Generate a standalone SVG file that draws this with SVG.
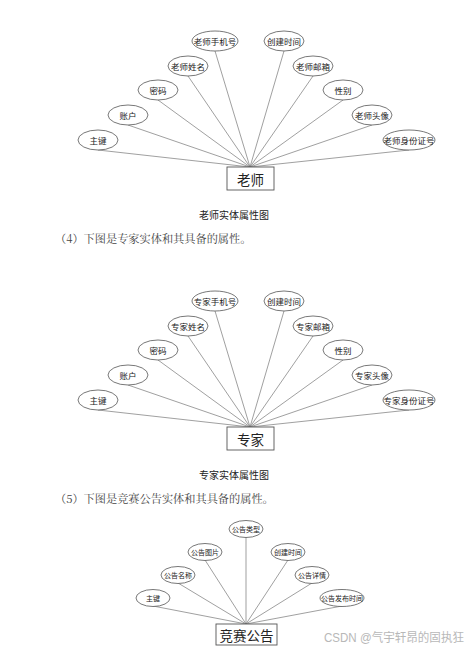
<svg xmlns="http://www.w3.org/2000/svg" width="474" height="648" viewBox="0 0 474 648">
<style>
.bg{fill:#fff}
.e{fill:#fff;stroke:#555;stroke-width:0.8}
.box{fill:#fff;stroke:#555;stroke-width:0.9}
.ln{stroke:#777;stroke-width:0.7;fill:none}
.t{font-family:"Noto Sans CJK SC","Liberation Sans",sans-serif;font-size:8.5px;fill:#222;text-anchor:middle;dominant-baseline:central}
.t7{font-size:7px}
.bt{font-family:"Noto Sans CJK SC","Liberation Sans",sans-serif;font-size:13.5px;fill:#222;text-anchor:middle;dominant-baseline:central}
.cap{font-family:"Noto Sans CJK SC","Liberation Sans",sans-serif;font-size:10px;fill:#222;text-anchor:middle}
.para{font-family:"Noto Serif CJK SC","Liberation Serif","Noto Sans CJK SC",serif;font-size:11.2px;fill:#444}
.wm{font-family:"Liberation Sans","Noto Sans CJK SC",sans-serif;font-size:12px;fill:#b8b8b8}
</style>
<rect class="bg" x="0" y="0" width="474" height="648"/>

<!-- Diagram 1: 老师 -->
<g id="connectors-teacher">
<line class="ln" x1="98" y1="150" x2="250" y2="167"/>
<line class="ln" x1="128" y1="125" x2="250" y2="167"/>
<line class="ln" x1="158" y1="100" x2="250" y2="167"/>
<line class="ln" x1="188" y1="76" x2="250" y2="167"/>
<line class="ln" x1="215" y1="51" x2="250" y2="167"/>
<line class="ln" x1="284" y1="51" x2="250" y2="167"/>
<line class="ln" x1="313" y1="76" x2="250" y2="167"/>
<line class="ln" x1="343" y1="100" x2="250" y2="167"/>
<line class="ln" x1="372" y1="125" x2="250" y2="167"/>
<line class="ln" x1="409" y1="150" x2="250" y2="167"/>
</g>
<g id="t-zhujian"><ellipse class="e" cx="98" cy="140" rx="20" ry="10"/><text class="t" x="98" y="140">主键</text></g>
<g id="t-zhanghu"><ellipse class="e" cx="128" cy="115" rx="20" ry="10"/><text class="t" x="128" y="115">账户</text></g>
<g id="t-mima"><ellipse class="e" cx="158" cy="90" rx="20" ry="10"/><text class="t" x="158" y="90">密码</text></g>
<g id="t-name"><ellipse class="e" cx="188" cy="66" rx="20" ry="10"/><text class="t" x="188" y="66">老师姓名</text></g>
<g id="t-phone"><ellipse class="e" cx="215" cy="41" rx="23" ry="10"/><text class="t" x="215" y="41">老师手机号</text></g>
<g id="t-ctime"><ellipse class="e" cx="284" cy="41" rx="20" ry="10"/><text class="t" x="284" y="41">创建时间</text></g>
<g id="t-email"><ellipse class="e" cx="313" cy="66" rx="20" ry="10"/><text class="t" x="313" y="66">老师邮箱</text></g>
<g id="t-sex"><ellipse class="e" cx="343" cy="90" rx="20" ry="10"/><text class="t" x="343" y="90">性别</text></g>
<g id="t-avatar"><ellipse class="e" cx="372" cy="115" rx="20" ry="10"/><text class="t" x="372" y="115">老师头像</text></g>
<g id="t-idcard"><ellipse class="e" cx="409" cy="140" rx="26" ry="10"/><text class="t" x="409" y="140">老师身份证号</text></g>
<g id="teacher"><rect class="box" x="227" y="167" width="47" height="23"/><text class="bt" x="250.5" y="178.5">老师</text></g>
<text class="cap" x="234" y="219">老师实体属性图</text>
<text class="para" x="55" y="243">（4）下图是专家实体和其具备的属性。</text>

<!-- Diagram 2: 专家 -->
<g id="connectors-expert">
<line class="ln" x1="98" y1="410" x2="250" y2="427"/>
<line class="ln" x1="128" y1="385" x2="250" y2="427"/>
<line class="ln" x1="158" y1="360" x2="250" y2="427"/>
<line class="ln" x1="188" y1="336" x2="250" y2="427"/>
<line class="ln" x1="215" y1="311" x2="250" y2="427"/>
<line class="ln" x1="284" y1="311" x2="250" y2="427"/>
<line class="ln" x1="313" y1="336" x2="250" y2="427"/>
<line class="ln" x1="343" y1="360" x2="250" y2="427"/>
<line class="ln" x1="372" y1="385" x2="250" y2="427"/>
<line class="ln" x1="409" y1="410" x2="250" y2="427"/>
</g>
<g id="e-zhujian"><ellipse class="e" cx="98" cy="400" rx="20" ry="10"/><text class="t" x="98" y="400">主键</text></g>
<g id="e-zhanghu"><ellipse class="e" cx="128" cy="375" rx="20" ry="10"/><text class="t" x="128" y="375">账户</text></g>
<g id="e-mima"><ellipse class="e" cx="158" cy="350" rx="20" ry="10"/><text class="t" x="158" y="350">密码</text></g>
<g id="e-name"><ellipse class="e" cx="188" cy="326" rx="20" ry="10"/><text class="t" x="188" y="326">专家姓名</text></g>
<g id="e-phone"><ellipse class="e" cx="215" cy="301" rx="23" ry="10"/><text class="t" x="215" y="301">专家手机号</text></g>
<g id="e-ctime"><ellipse class="e" cx="284" cy="301" rx="20" ry="10"/><text class="t" x="284" y="301">创建时间</text></g>
<g id="e-email"><ellipse class="e" cx="313" cy="326" rx="20" ry="10"/><text class="t" x="313" y="326">专家邮箱</text></g>
<g id="e-sex"><ellipse class="e" cx="343" cy="350" rx="20" ry="10"/><text class="t" x="343" y="350">性别</text></g>
<g id="e-avatar"><ellipse class="e" cx="372" cy="375" rx="20" ry="10"/><text class="t" x="372" y="375">专家头像</text></g>
<g id="e-idcard"><ellipse class="e" cx="409" cy="400" rx="26" ry="10"/><text class="t" x="409" y="400">专家身份证号</text></g>
<g id="expert"><rect class="box" x="227" y="427" width="47" height="23"/><text class="bt" x="250.5" y="438.5">专家</text></g>
<text class="cap" x="234" y="479">专家实体属性图</text>
<text class="para" x="55" y="503">（5）下图是竞赛公告实体和其具备的属性。</text>

<!-- Diagram 3: 竞赛公告 -->
<g id="connectors-notice">
<line class="ln" x1="153" y1="606" x2="246" y2="624"/>
<line class="ln" x1="178" y1="583" x2="246" y2="624"/>
<line class="ln" x1="205" y1="560" x2="246" y2="624"/>
<line class="ln" x1="246" y1="537" x2="246" y2="624"/>
<line class="ln" x1="288" y1="560" x2="246" y2="624"/>
<line class="ln" x1="312" y1="583" x2="246" y2="624"/>
<line class="ln" x1="342" y1="606" x2="246" y2="624"/>
</g>
<g id="n-zhujian"><ellipse class="e" cx="153" cy="598" rx="17" ry="8.5"/><text class="t t7" x="153" y="598">主键</text></g>
<g id="n-title"><ellipse class="e" cx="178" cy="575" rx="17" ry="8.5"/><text class="t t7" x="178" y="575">公告名称</text></g>
<g id="n-image"><ellipse class="e" cx="205" cy="552" rx="17" ry="8.5"/><text class="t t7" x="205" y="552">公告图片</text></g>
<g id="n-type"><ellipse class="e" cx="246" cy="529" rx="17" ry="8.5"/><text class="t t7" x="246" y="529">公告类型</text></g>
<g id="n-ctime"><ellipse class="e" cx="288" cy="552" rx="17" ry="8.5"/><text class="t t7" x="288" y="552">创建时间</text></g>
<g id="n-detail"><ellipse class="e" cx="312" cy="575" rx="17" ry="8.5"/><text class="t t7" x="312" y="575">公告详情</text></g>
<g id="n-ptime"><ellipse class="e" cx="342" cy="598" rx="22" ry="8.5"/><text class="t t7" x="342" y="598">公告发布时间</text></g>
<g id="notice"><rect class="box" x="216" y="624" width="61" height="21"/><text class="bt" x="246.5" y="634.5">竞赛公告</text></g>

<text class="wm" x="324" y="642" textLength="140" lengthAdjust="spacingAndGlyphs">CSDN @气宇轩昂的固执狂</text>
</svg>
